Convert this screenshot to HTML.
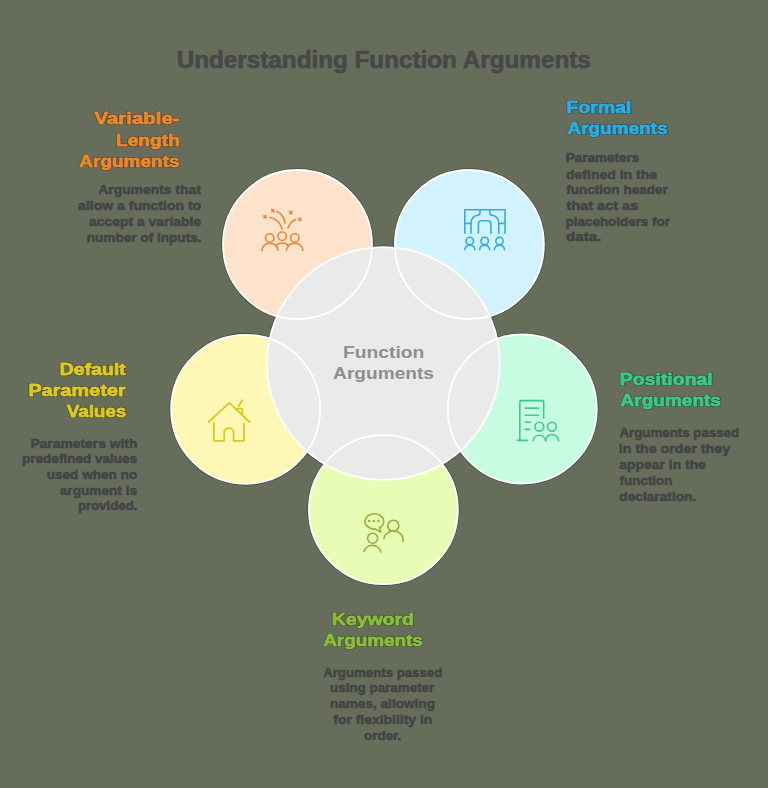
<!DOCTYPE html>
<html><head><meta charset="utf-8"><style>
html,body{margin:0;padding:0;width:768px;height:788px;overflow:hidden;background:#676d5b;}
svg{position:absolute;left:0;top:0;display:block}
text{font-family:"Liberation Sans",sans-serif;font-weight:700;}
</style></head><body>
<svg width="768" height="788" viewBox="0 0 768 788">
<rect width="768" height="788" fill="#676d5b"/>
<circle cx="297.5" cy="244.5" r="76.2" fill="rgba(45,45,45,0.55)"/><circle cx="469.4" cy="244.5" r="76.2" fill="rgba(45,45,45,0.55)"/><circle cx="245.6" cy="409.3" r="76.2" fill="rgba(45,45,45,0.55)"/><circle cx="522.3" cy="409.0" r="76.2" fill="rgba(45,45,45,0.55)"/><circle cx="383.4" cy="509.7" r="76.2" fill="rgba(45,45,45,0.55)"/><circle cx="383.4" cy="363.5" r="118.10000000000001" fill="rgba(45,45,45,0.55)"/>
<circle cx="297.5" cy="244.5" r="74.5" fill="#fee3cc"/><circle cx="469.4" cy="244.5" r="74.5" fill="#d2f3fe"/><circle cx="245.6" cy="409.3" r="74.5" fill="#fef7b6"/><circle cx="522.3" cy="409.0" r="74.5" fill="#c7fce2"/><circle cx="383.4" cy="509.7" r="74.5" fill="#e8fcb5"/><circle cx="383.4" cy="363.5" r="116.4" fill="#eaeaea"/>
<circle cx="297.5" cy="244.5" r="74.5" fill="none" stroke="#fff" stroke-width="1.8"/><circle cx="469.4" cy="244.5" r="74.5" fill="none" stroke="#fff" stroke-width="1.8"/><circle cx="245.6" cy="409.3" r="74.5" fill="none" stroke="#fff" stroke-width="1.8"/><circle cx="522.3" cy="409.0" r="74.5" fill="none" stroke="#fff" stroke-width="1.8"/><circle cx="383.4" cy="509.7" r="74.5" fill="none" stroke="#fff" stroke-width="1.8"/><circle cx="383.4" cy="363.5" r="116.4" fill="none" stroke="#fff" stroke-width="1.8"/>
<g fill="none" stroke="#e08a3c" stroke-width="1.6" stroke-linecap="round" stroke-linejoin="round">
<circle cx="269.7" cy="238" r="4.2"/>
<circle cx="282.2" cy="236.2" r="4.2"/>
<circle cx="294.8" cy="238" r="4.2"/>
<path d="M261.8,250.5 A8,7.2 0 0 1 277.9,250.5"/>
<path d="M275.8,245.8 A7.6,6 0 0 1 288.7,245.8"/>
<path d="M286.5,250.5 A8.2,7.2 0 0 1 303,250.5"/>
<path d="M269.7,217.2 Q279.5,219.5 282.2,229"/>
<path d="M276.8,211.5 Q283.5,214 285.1,222.9"/>
<path d="M288,227.9 Q290.5,221.5 295.8,219.6"/>
<path d="M263.9,215.7 l2.2,2.2 M266.1,215.7 l-2.2,2.2"/>
<path d="M271.8,209.6 l2.2,2.2 M274,209.6 l-2.2,2.2"/>
<path d="M289.7,211.4 l2.2,2.2 M291.9,211.4 l-2.2,2.2"/>
<path d="M298.7,218.2 l2.2,2.2 M300.9,218.2 l-2.2,2.2"/>
</g>
<g fill="none" stroke="#30aee0" stroke-width="1.6" stroke-linecap="round" stroke-linejoin="round">
<path d="M464.8,233.2 V209.8 H505 V233.2"/>
<path d="M464.8,223.4 H471 M498.6,223.4 H505"/>
<path d="M480,209.8 V212.5 Q480,214.9 477.7,215.2 Q471,216.4 471,223.4 V233.2"/>
<path d="M489.8,209.8 V212.5 Q489.8,214.9 492.1,215.2 Q498.8,216.4 498.8,223.4 V233.2"/>
<path d="M478.4,233.2 V224 Q478.4,220.7 481.7,220.7 H487.6 Q490.9,220.7 490.9,224 V233.2"/>
<circle cx="469.8" cy="241" r="3.7"/>
<circle cx="484.7" cy="241" r="3.7"/>
<circle cx="499.5" cy="241" r="3.7"/>
<path d="M464.8,249.6 A5.1,5 0 0 1 474.9,249.6"/>
<path d="M479.6,249.6 A5.1,5 0 0 1 489.7,249.6"/>
<path d="M494.4,249.6 A5.1,5 0 0 1 504.5,249.6"/>
</g>
<g fill="none" stroke="#dcc81c" stroke-width="1.8" stroke-linecap="round" stroke-linejoin="round">
<path d="M208.6,422 L229.3,402.9 L249.6,422"/>
<path d="M236.7,408.75 H242.2 V413.8"/>
<path d="M238.7,406 L242.2,400.2"/>
<path d="M213.9,422.8 V440.8 H224.2 V432.2 A4.7,4 0 0 1 233.6,432.2 V440.8 H244.1 V423.6"/>
</g>
<g fill="none" stroke="#40c98a" stroke-width="1.6" stroke-linecap="round" stroke-linejoin="round">
<path d="M519.8,440 V402.2 Q519.8,400.6 521.4,400.6 H542 Q543.7,400.6 543.7,402.2 V418.1"/>
<path d="M517.5,440.4 H527.3"/>
<path d="M525.3,408.1 H538.6 M525.3,415.2 H538.6 M525.3,422.2 H530.4 M525.3,429.4 H529.6"/>
<circle cx="539.4" cy="426.7" r="4.4"/>
<circle cx="551.9" cy="426.7" r="4.4"/>
<path d="M533.1,440.8 A6.3,6.3 0 0 1 545.6,440.8"/>
<path d="M545.6,440.8 A6.4,6.3 0 0 1 558.5,440.8"/>
</g>
<g fill="none" stroke="#86b83a" stroke-width="1.6" stroke-linecap="round" stroke-linejoin="round">
<path d="M379.6,527.7 L380.8,532 L374.9,529"/>
<path d="M374.9,529 A9.3,7.6 0 1 1 379.6,527.7"/>
<circle cx="369.1" cy="521" r="0.5"/>
<circle cx="373.75" cy="521" r="0.5"/>
<circle cx="378.4" cy="521" r="0.5"/>
<circle cx="393.3" cy="525.7" r="5.5"/>
<path d="M383.9,538.5 A9.6,9 0 0 1 403,541.5"/>
<circle cx="372.6" cy="538.2" r="5"/>
<path d="M364,551.5 A8.6,8 0 0 1 380.8,551.9"/>
</g>

<text x="176.69" y="68.10" font-size="23" textLength="414.10" lengthAdjust="spacingAndGlyphs" fill="#484848" stroke="#484848" stroke-width="0.7" stroke-linejoin="round">Understanding Function Arguments</text>
<text x="94.20" y="124.20" font-size="17" textLength="85.10" lengthAdjust="spacingAndGlyphs" fill="#3b3834" stroke="#3b3834" stroke-width="1.8" stroke-linejoin="round">Variable-</text><text x="94.20" y="124.20" font-size="17" textLength="85.10" lengthAdjust="spacingAndGlyphs" fill="#e8892b" stroke="#e8892b" stroke-width="0.8" stroke-linejoin="round">Variable-</text>
<text x="115.65" y="146.00" font-size="17" textLength="64.05" lengthAdjust="spacingAndGlyphs" fill="#3b3834" stroke="#3b3834" stroke-width="1.8" stroke-linejoin="round">Length</text><text x="115.65" y="146.00" font-size="17" textLength="64.05" lengthAdjust="spacingAndGlyphs" fill="#e8892b" stroke="#e8892b" stroke-width="0.8" stroke-linejoin="round">Length</text>
<text x="79.02" y="167.20" font-size="17" textLength="100.30" lengthAdjust="spacingAndGlyphs" fill="#3b3834" stroke="#3b3834" stroke-width="1.8" stroke-linejoin="round">Arguments</text><text x="79.02" y="167.20" font-size="17" textLength="100.30" lengthAdjust="spacingAndGlyphs" fill="#e8892b" stroke="#e8892b" stroke-width="0.8" stroke-linejoin="round">Arguments</text>
<text x="98.25" y="194.10" font-size="13.5" textLength="102.55" lengthAdjust="spacingAndGlyphs" fill="#444444" stroke="#444444" stroke-width="0.6" stroke-linejoin="round">Arguments that</text>
<text x="78.08" y="209.60" font-size="13.5" textLength="123.12" lengthAdjust="spacingAndGlyphs" fill="#444444" stroke="#444444" stroke-width="0.6" stroke-linejoin="round">allow a function to</text>
<text x="88.98" y="226.00" font-size="13.5" textLength="112.11" lengthAdjust="spacingAndGlyphs" fill="#444444" stroke="#444444" stroke-width="0.6" stroke-linejoin="round">accept a variable</text>
<text x="86.72" y="241.50" font-size="13.5" textLength="114.82" lengthAdjust="spacingAndGlyphs" fill="#444444" stroke="#444444" stroke-width="0.6" stroke-linejoin="round">number of inputs.</text>
<text x="566.64" y="113.00" font-size="17" textLength="64.80" lengthAdjust="spacingAndGlyphs" fill="#3b3834" stroke="#3b3834" stroke-width="1.8" stroke-linejoin="round">Formal</text><text x="566.64" y="113.00" font-size="17" textLength="64.80" lengthAdjust="spacingAndGlyphs" fill="#2aaddf" stroke="#2aaddf" stroke-width="0.8" stroke-linejoin="round">Formal</text>
<text x="567.42" y="134.00" font-size="17" textLength="100.30" lengthAdjust="spacingAndGlyphs" fill="#3b3834" stroke="#3b3834" stroke-width="1.8" stroke-linejoin="round">Arguments</text><text x="567.42" y="134.00" font-size="17" textLength="100.30" lengthAdjust="spacingAndGlyphs" fill="#2aaddf" stroke="#2aaddf" stroke-width="0.8" stroke-linejoin="round">Arguments</text>
<text x="565.67" y="162.20" font-size="13.5" textLength="73.61" lengthAdjust="spacingAndGlyphs" fill="#444444" stroke="#444444" stroke-width="0.6" stroke-linejoin="round">Parameters</text>
<text x="565.99" y="178.60" font-size="13.5" textLength="91.10" lengthAdjust="spacingAndGlyphs" fill="#444444" stroke="#444444" stroke-width="0.6" stroke-linejoin="round">defined in the</text>
<text x="566.35" y="194.20" font-size="13.5" textLength="101.36" lengthAdjust="spacingAndGlyphs" fill="#444444" stroke="#444444" stroke-width="0.6" stroke-linejoin="round">function header</text>
<text x="566.40" y="209.80" font-size="13.5" textLength="71.90" lengthAdjust="spacingAndGlyphs" fill="#444444" stroke="#444444" stroke-width="0.6" stroke-linejoin="round">that act as</text>
<text x="565.68" y="226.25" font-size="13.5" textLength="104.22" lengthAdjust="spacingAndGlyphs" fill="#444444" stroke="#444444" stroke-width="0.6" stroke-linejoin="round">placeholders for</text>
<text x="565.94" y="241.00" font-size="13.5" textLength="35.40" lengthAdjust="spacingAndGlyphs" fill="#444444" stroke="#444444" stroke-width="0.6" stroke-linejoin="round">data.</text>
<text x="59.43" y="374.50" font-size="17" textLength="66.20" lengthAdjust="spacingAndGlyphs" fill="#3b3834" stroke="#3b3834" stroke-width="1.8" stroke-linejoin="round">Default</text><text x="59.43" y="374.50" font-size="17" textLength="66.20" lengthAdjust="spacingAndGlyphs" fill="#dccb1e" stroke="#dccb1e" stroke-width="0.8" stroke-linejoin="round">Default</text>
<text x="28.21" y="395.60" font-size="17" textLength="97.39" lengthAdjust="spacingAndGlyphs" fill="#3b3834" stroke="#3b3834" stroke-width="1.8" stroke-linejoin="round">Parameter</text><text x="28.21" y="395.60" font-size="17" textLength="97.39" lengthAdjust="spacingAndGlyphs" fill="#dccb1e" stroke="#dccb1e" stroke-width="0.8" stroke-linejoin="round">Parameter</text>
<text x="66.81" y="416.70" font-size="17" textLength="59.27" lengthAdjust="spacingAndGlyphs" fill="#3b3834" stroke="#3b3834" stroke-width="1.8" stroke-linejoin="round">Values</text><text x="66.81" y="416.70" font-size="17" textLength="59.27" lengthAdjust="spacingAndGlyphs" fill="#dccb1e" stroke="#dccb1e" stroke-width="0.8" stroke-linejoin="round">Values</text>
<text x="30.40" y="447.80" font-size="13.5" textLength="107.04" lengthAdjust="spacingAndGlyphs" fill="#444444" stroke="#444444" stroke-width="0.6" stroke-linejoin="round">Parameters with</text>
<text x="22.02" y="463.00" font-size="13.5" textLength="115.16" lengthAdjust="spacingAndGlyphs" fill="#444444" stroke="#444444" stroke-width="0.6" stroke-linejoin="round">predefined values</text>
<text x="46.69" y="479.00" font-size="13.5" textLength="90.49" lengthAdjust="spacingAndGlyphs" fill="#444444" stroke="#444444" stroke-width="0.6" stroke-linejoin="round">used when no</text>
<text x="59.79" y="495.20" font-size="13.5" textLength="77.40" lengthAdjust="spacingAndGlyphs" fill="#444444" stroke="#444444" stroke-width="0.6" stroke-linejoin="round">argument is</text>
<text x="77.94" y="510.40" font-size="13.5" textLength="59.53" lengthAdjust="spacingAndGlyphs" fill="#444444" stroke="#444444" stroke-width="0.6" stroke-linejoin="round">provided.</text>
<text x="619.84" y="385.30" font-size="17" textLength="92.89" lengthAdjust="spacingAndGlyphs" fill="#3b3834" stroke="#3b3834" stroke-width="1.8" stroke-linejoin="round">Positional</text><text x="619.84" y="385.30" font-size="17" textLength="92.89" lengthAdjust="spacingAndGlyphs" fill="#3cc889" stroke="#3cc889" stroke-width="0.8" stroke-linejoin="round">Positional</text>
<text x="620.62" y="406.40" font-size="17" textLength="100.30" lengthAdjust="spacingAndGlyphs" fill="#3b3834" stroke="#3b3834" stroke-width="1.8" stroke-linejoin="round">Arguments</text><text x="620.62" y="406.40" font-size="17" textLength="100.30" lengthAdjust="spacingAndGlyphs" fill="#3cc889" stroke="#3cc889" stroke-width="0.8" stroke-linejoin="round">Arguments</text>
<text x="619.47" y="436.90" font-size="13.5" textLength="119.63" lengthAdjust="spacingAndGlyphs" fill="#444444" stroke="#444444" stroke-width="0.6" stroke-linejoin="round">Arguments passed</text>
<text x="618.81" y="453.30" font-size="13.5" textLength="111.26" lengthAdjust="spacingAndGlyphs" fill="#444444" stroke="#444444" stroke-width="0.6" stroke-linejoin="round">in the order they</text>
<text x="619.38" y="468.80" font-size="13.5" textLength="86.49" lengthAdjust="spacingAndGlyphs" fill="#444444" stroke="#444444" stroke-width="0.6" stroke-linejoin="round">appear in the</text>
<text x="619.60" y="485.20" font-size="13.5" textLength="52.89" lengthAdjust="spacingAndGlyphs" fill="#444444" stroke="#444444" stroke-width="0.6" stroke-linejoin="round">function</text>
<text x="619.25" y="500.70" font-size="13.5" textLength="77.08" lengthAdjust="spacingAndGlyphs" fill="#444444" stroke="#444444" stroke-width="0.6" stroke-linejoin="round">declaration.</text>
<text x="331.84" y="625.00" font-size="17" textLength="81.99" lengthAdjust="spacingAndGlyphs" fill="#3b3834" stroke="#3b3834" stroke-width="1.8" stroke-linejoin="round">Keyword</text><text x="331.84" y="625.00" font-size="17" textLength="81.99" lengthAdjust="spacingAndGlyphs" fill="#89bf3a" stroke="#89bf3a" stroke-width="0.8" stroke-linejoin="round">Keyword</text>
<text x="323.23" y="646.00" font-size="17" textLength="99.49" lengthAdjust="spacingAndGlyphs" fill="#3b3834" stroke="#3b3834" stroke-width="1.8" stroke-linejoin="round">Arguments</text><text x="323.23" y="646.00" font-size="17" textLength="99.49" lengthAdjust="spacingAndGlyphs" fill="#89bf3a" stroke="#89bf3a" stroke-width="0.8" stroke-linejoin="round">Arguments</text>
<text x="323.17" y="676.90" font-size="13.5" textLength="119.13" lengthAdjust="spacingAndGlyphs" fill="#444444" stroke="#444444" stroke-width="0.6" stroke-linejoin="round">Arguments passed</text>
<text x="330.00" y="692.40" font-size="13.5" textLength="104.31" lengthAdjust="spacingAndGlyphs" fill="#444444" stroke="#444444" stroke-width="0.6" stroke-linejoin="round">using parameter</text>
<text x="329.92" y="707.90" font-size="13.5" textLength="105.06" lengthAdjust="spacingAndGlyphs" fill="#444444" stroke="#444444" stroke-width="0.6" stroke-linejoin="round">names, allowing</text>
<text x="333.29" y="724.30" font-size="13.5" textLength="98.97" lengthAdjust="spacingAndGlyphs" fill="#444444" stroke="#444444" stroke-width="0.6" stroke-linejoin="round">for flexibility in</text>
<text x="363.96" y="739.80" font-size="13.5" textLength="37.36" lengthAdjust="spacingAndGlyphs" fill="#444444" stroke="#444444" stroke-width="0.6" stroke-linejoin="round">order.</text>
<text x="343.05" y="357.90" font-size="16" textLength="81.23" lengthAdjust="spacingAndGlyphs" fill="#8e8e8e">Function</text>
<text x="333.12" y="378.70" font-size="16" textLength="100.81" lengthAdjust="spacingAndGlyphs" fill="#8e8e8e">Arguments</text>
</svg>
</body></html>
